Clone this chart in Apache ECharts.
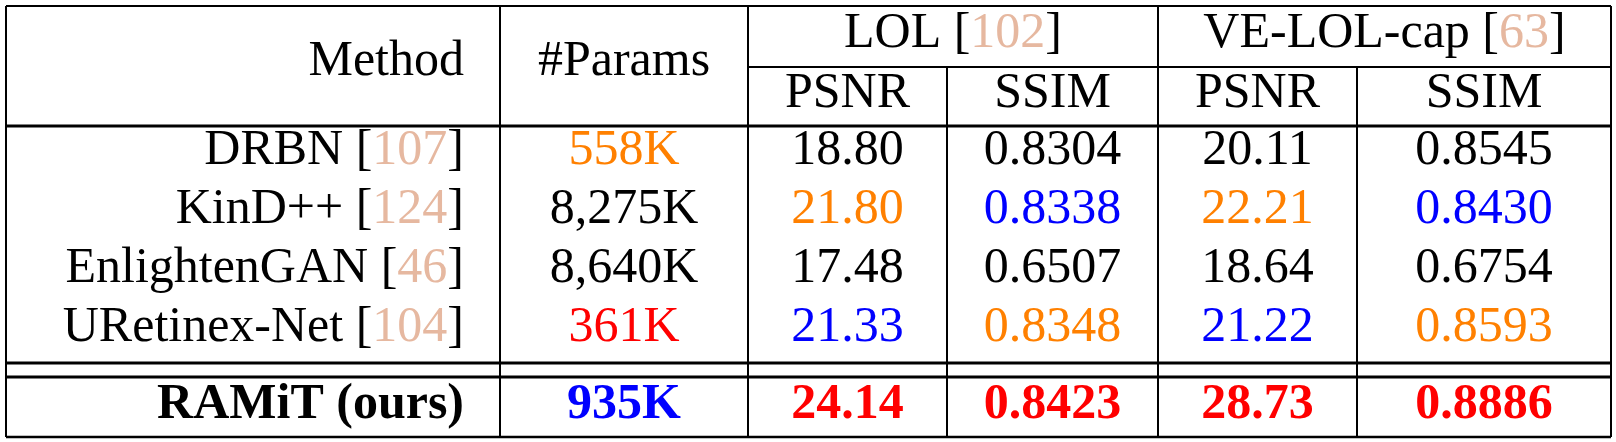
<!DOCTYPE html>
<html>
<head>
<meta charset="UTF-8">
<script src="https://cdn.jsdelivr.net/npm/echarts@6/dist/echarts.min.js"></script>
<style>html,body{margin:0;background:#fff}#c{width:1616px;height:442px}</style>
</head>
<body>
<div id="c"></div>
<script>
// table data
var methods = ['DRBN', 'KinD++', 'EnlightenGAN', 'URetinex-Net'];
var cites = ['107', '124', '46', '104'];
var params = ['558K', '8,275K', '8,640K', '361K'];
var lolPsnr = ['18.80', '21.80', '17.48', '21.33'];
var lolSsim = ['0.8304', '0.8338', '0.6507', '0.8348'];
var vePsnr = ['20.11', '22.21', '18.64', '21.22'];
var veSsim = ['0.8545', '0.8430', '0.6754', '0.8593'];
// rank: 0 none, 1 best, 2 second, 3 third
var rankParams = [3, 0, 0, 1];
var rankLolPsnr = [0, 3, 0, 2];
var rankLolSsim = [0, 2, 0, 3];
var rankVePsnr = [0, 3, 0, 2];
var rankVeSsim = [0, 2, 0, 3];
var ours = ['RAMiT (ours)', '935K', '24.14', '0.8423', '28.73', '0.8886'];
var oursRank = [0, 2, 1, 1, 1, 1];

var rankColor = ['#000', '#ff0000', '#0000ff', '#ff8000'];
var citeColor = '#e6b8a0';
var family = 'Liberation Serif';
var fs = 50;

var X = [6, 500, 748, 947, 1158, 1357, 1611];
var Y = {top: 6, sub: 67, head: 126, d1: 363, d2: 377, bot: 437};
var rowY = [151, 210, 269, 328];
var g = [];

function line(x1, y1, x2, y2, w) {
  g.push({type: 'line', shape: {x1: x1, y1: y1, x2: x2, y2: y2}, style: {stroke: '#000', lineWidth: w}});
}
function text(str, x, y, align, color, bold) {
  g.push({type: 'text', x: x, y: y, style: {text: str, fontFamily: family, fontSize: fs,
    fontWeight: bold ? 'bold' : 'normal',
    fill: color || '#000', align: align || 'center', verticalAlign: 'middle'}});
}
function cited(name, cite, x, y, align) {
  g.push({type: 'text', x: x, y: y, style: {
    text: name + ' [{c|' + cite + '}]', fontFamily: family, fontSize: fs, fill: '#000',
    align: align, verticalAlign: 'middle',
    rich: {c: {fill: citeColor, fontFamily: family, fontSize: fs}}}});
}
function mid(i) { return (X[i] + X[i + 1]) / 2; }

// grid lines
line(X[0], Y.top, X[6], Y.top, 2);
line(X[0], Y.bot, X[6], Y.bot, 2.5);
line(X[0], Y.head, X[6], Y.head, 3);
line(X[2], Y.sub, X[6], Y.sub, 2);
line(X[0], Y.d1, X[6], Y.d1, 3);
line(X[0], Y.d2, X[6], Y.d2, 3);
[0, 1, 2, 4, 6].forEach(function (i) { line(X[i], Y.top, X[i], Y.bot, 2); });
[3, 5].forEach(function (i) { line(X[i], Y.sub, X[i], Y.bot, 2); });

// headers
text('Method', 464, 62, 'right');
text('#Params', mid(1), 62);
cited('LOL', '102', (X[2] + X[4]) / 2, 34, 'center');
cited('VE-LOL-cap', '63', (X[4] + X[6]) / 2, 34, 'center');
['PSNR', 'SSIM', 'PSNR', 'SSIM'].forEach(function (s, i) { text(s, mid(i + 2), 94); });

// body
var cols = [params, lolPsnr, lolSsim, vePsnr, veSsim];
var ranks = [rankParams, rankLolPsnr, rankLolSsim, rankVePsnr, rankVeSsim];
methods.forEach(function (m, r) {
  cited(m, cites[r], 464, rowY[r], 'right');
  cols.forEach(function (col, c) {
    text(col[r], mid(c + 1), rowY[r], 'center', rankColor[ranks[c][r]]);
  });
});
text(ours[0], 464, 405, 'right', '#000', true);
for (var c = 1; c < ours.length; c++) text(ours[c], mid(c), 405, 'center', rankColor[oursRank[c]], true);

var chart = echarts.init(document.getElementById('c'));
chart.setOption({animation: false, graphic: g});
</script>
</body>
</html>
